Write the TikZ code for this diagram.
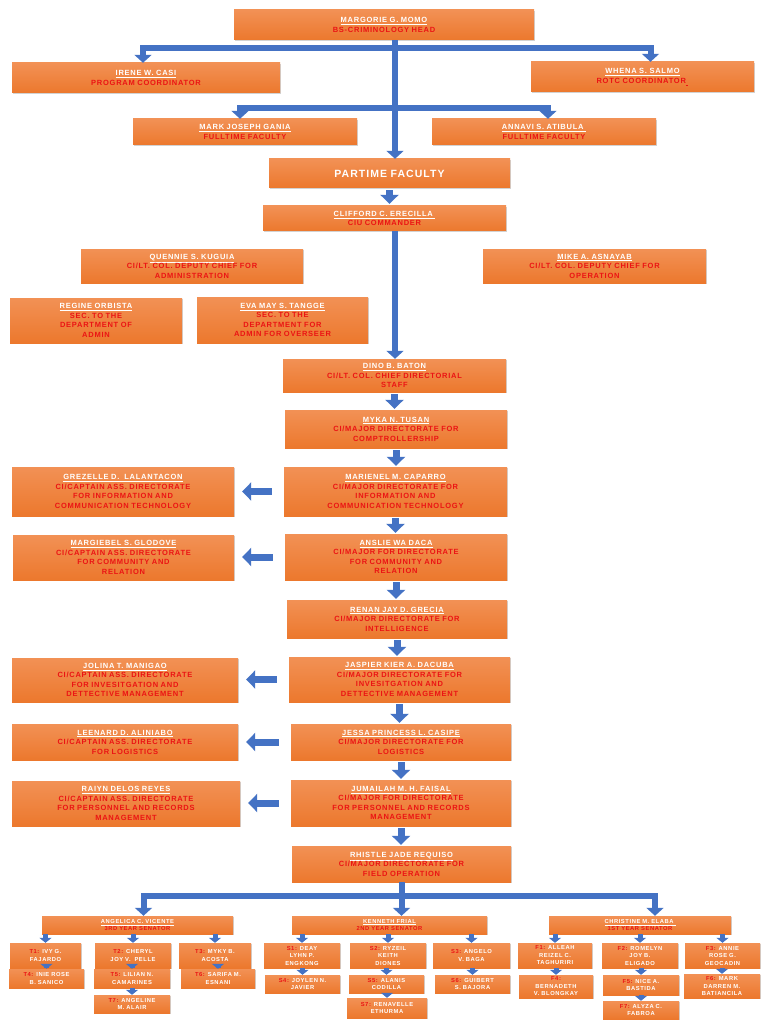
\documentclass[tikz,border=0pt]{standalone}
\usepackage{fontspec}
\setmainfont{Liberation Sans}[LetterSpace=10]
\usetikzlibrary{arrows.meta,shadows}
\definecolor{myblue}{RGB}{68,114,196}
\definecolor{otop}{RGB}{242,145,85}
\definecolor{obot}{RGB}{236,120,45}
\definecolor{myred}{RGB}{235,20,20}
\newcommand\nm[1]{\textcolor{white}{\underline{#1}}}
\newcommand\rl[1]{\textcolor{myred}{#1}}
\newcommand\tg[1]{\textcolor{myred}{#1}}
\newcommand\bx[7][box]{%
 \pgfmathsetmacro\bw{#5-#3}\pgfmathsetmacro\bh{#6-#4}%
 \pgfmathsetmacro\bcx{(#3+#5)/2}\pgfmathsetmacro\bcy{(#4+#6)/2}%
 \pgfmathsetmacro\btw{#5-#3-2}%
 \node[#1,minimum width=\bw pt,minimum height=\bh pt,text width=\btw pt] (#2) at (\bcx,\bcy) {#7};}
\tikzset{
 box/.style={rectangle,top color=otop,bottom color=obot,draw=none,inner sep=0pt,align=center,
   font=\bfseries\fontsize{7.5}{9.5}\selectfont,drop shadow={opacity=0.35,shadow xshift=1.2pt,shadow yshift=-1.2pt}},
 sbox/.style={box,font=\bfseries\fontsize{5.8}{7.5}\selectfont},
 bar/.style={draw=myblue,line width=6pt,-{Triangle[width=17pt,length=8pt]}},
 blk/.style={draw=myblue,line width=7pt,-{Triangle[width=18pt,length=9pt]}},
 sblk/.style={draw=myblue,line width=5pt,-{Triangle[width=12pt,length=5pt]}},
}
\begin{document}
\begin{tikzpicture}[x=1pt,y=-1pt]
\useasboundingbox[fill=white] (0,0) rectangle (768,1024);
\bx{margorie}{234}{10}{534}{40}{\nm{MARGORIE G. MOMO}\\\rl{BS-CRIMINOLOGY HEAD}}
\bx{irene}{12}{63}{280}{93}{\nm{IRENE W. CASI}\\\rl{PROGRAM COORDINATOR}}
\bx{whena}{531}{62}{754}{92}{\nm{WHENA S. SALMO}\\\rl{ROTC COORDINATOR\underline{ }}}
\bx{mark}{133}{119}{357}{145}{\nm{MARK JOSEPH GANIA}\\\rl{FULLTIME FACULTY}}
\bx{annavi}{432}{119}{656}{145}{\nm{ANNAVI S. ATIBULA }\\\rl{FULLTIME FACULTY}}
\bx[box,font=\bfseries\fontsize{10.5}{12}\selectfont,text=white]{partime}{269}{159}{510}{188}{PARTIME FACULTY}
\bx{clifford}{263}{206}{506}{231}{\nm{CLIFFORD C. ERECILLA }\\\rl{CIU COMMANDER}}
\bx{quennie}{81}{249}{303}{283}{\nm{QUENNIE S. KUGUIA}\\\rl{CI/LT. COL. DEPUTY CHIEF FOR\\ADMINISTRATION}}
\bx{mike}{483}{249}{706}{283}{\nm{MIKE A. ASNAYAB}\\\rl{CI/LT. COL. DEPUTY CHIEF FOR\\OPERATION}}
\bx{regine}{10}{298}{182}{343}{\nm{REGINE ORBISTA}\\\rl{SEC. TO THE\\DEPARTMENT OF\\ADMIN}}
\bx{eva}{197}{297}{368}{343}{\nm{EVA MAY S. TANGGE}\\\rl{SEC. TO THE\\DEPARTMENT FOR\\ADMIN FOR OVERSEER}}
\bx{dino}{283}{359}{506}{392}{\nm{DINO B. BATON}\\\rl{CI/LT. COL. CHIEF DIRECTORIAL\\STAFF}}
\bx{myka}{285}{410}{507}{448}{\nm{MYKA N. TUSAN}\\\rl{CI/MAJOR DIRECTORATE FOR\\COMPTROLLERSHIP}}
\bx{marienel}{284}{467}{507}{516}{\nm{MARIENEL M. CAPARRO}\\\rl{CI/MAJOR DIRECTORATE FOR\\INFORMATION AND\\COMMUNICATION TECHNOLOGY}}
\bx{grezelle}{12}{467}{234}{516}{\nm{GREZELLE D.\ \ LALANTACON}\\\rl{CI/CAPTAIN ASS. DIRECTORATE\\FOR INFORMATION AND\\COMMUNICATION TECHNOLOGY}}
\bx{anslie}{285}{534}{507}{580}{\nm{ANSLIE WA DACA}\\\rl{CI/MAJOR FOR DIRECTORATE\\FOR COMMUNITY AND\\RELATION}}
\bx{margiebel}{13}{535}{234}{580}{\nm{MARGIEBEL S. GLODOVE}\\\rl{CI/CAPTAIN ASS. DIRECTORATE\\FOR COMMUNITY AND\\RELATION}}
\bx{renan}{287}{600}{507}{638}{\nm{RENAN JAY D. GRECIA}\\\rl{CI/MAJOR DIRECTORATE FOR\\INTELLIGENCE}}
\bx{jaspier}{289}{657}{510}{702}{\nm{JASPIER KIER A. DACUBA}\\\rl{CI/MAJOR DIRECTORATE FOR\\INVESITGATION AND\\DETTECTIVE MANAGEMENT}}
\bx{jolina}{12}{658}{238}{702}{\nm{JOLINA T. MANIGAO}\\\rl{CI/CAPTAIN ASS. DIRECTORATE\\FOR INVESITGATION AND\\DETTECTIVE MANAGEMENT}}
\bx{jessa}{291}{724}{511}{760}{\nm{JESSA PRINCESS L. CASIPE}\\\rl{CI/MAJOR DIRECTORATE FOR\\LOGISTICS}}
\bx{leenard}{12}{724}{238}{760}{\nm{LEENARD D. ALINIABO}\\\rl{CI/CAPTAIN ASS. DIRECTORATE\\FOR LOGISTICS}}
\bx{jumailah}{291}{780}{511}{826}{\nm{JUMAILAH M. H. FAISAL}\\\rl{CI/MAJOR FOR DIRECTORATE\\FOR PERSONNEL AND RECORDS\\MANAGEMENT}}
\bx{raiyn}{12}{781}{240}{826}{\nm{RAIYN DELOS REYES}\\\rl{CI/CAPTAIN ASS. DIRECTORATE\\FOR PERSONNEL AND RECORDS\\MANAGEMENT}}
\bx{rhistle}{292}{846}{511}{882}{\nm{RHISTLE JADE REQUISO}\\\rl{CI/MAJOR DIRECTORATE FOR\\FIELD OPERATION}}
% bottom
\bx[sbox]{angelica}{42}{916}{233}{934}{\nm{ANGELICA C. VICENTE}\\\rl{3RD YEAR SENATOR}}
\bx[sbox]{kenneth}{292}{916}{487}{934}{\nm{KENNETH FRIAL}\\\rl{2ND YEAR SENATOR}}
\bx[sbox]{christine}{549}{916}{731}{934}{\nm{CHRISTINE M. ELABA }\\\rl{1ST YEAR SENATOR}}
\bx[sbox,text=white]{t1}{10}{943}{81}{968}{\tg{T1:} IVY G.\\FAJARDO}
\bx[sbox,text=white]{t2}{95}{943}{171}{968}{\tg{T2:} CHERYL\\JOY V.\ \ PELLE}
\bx[sbox,text=white]{t3}{179}{943}{251}{968}{\tg{T3:} MYKY B.\\ACOSTA}
\bx[sbox,text=white]{t4}{9}{969}{84}{988}{\tg{T4:} INIE ROSE\\B. SANICO}
\bx[sbox,text=white]{t5}{94}{969}{170}{988}{\tg{T5:} LILIAN N.\\CAMARINES}
\bx[sbox,text=white]{t6}{181}{969}{255}{988}{\tg{T6:} SARIFA M.\\ESNANI}
\bx[sbox,text=white]{t7}{94}{995}{170}{1013}{\tg{T7:} ANGELINE\\M. ALAIR}
\bx[sbox,text=white]{s1}{264}{943}{340}{968}{\tg{S1:} DEAY\\LYHN P.\\ENGKONG}
\bx[sbox,text=white]{s2}{350}{943}{426}{968}{\tg{S2:} RYZEIL\\KEITH\\DIONES}
\bx[sbox,text=white]{s3}{433}{943}{510}{968}{\tg{S3:} ANGELO\\V. BAGA}
\bx[sbox,text=white]{s4}{265}{975}{340}{993}{\tg{S4:} JOYLEN N.\\JAVIER}
\bx[sbox,text=white]{s5}{349}{975}{424}{993}{\tg{S5:} ALANIS\\CODILLA}
\bx[sbox,text=white]{s6}{435}{975}{510}{993}{\tg{S6:} GUIBERT\\S. BAJORA}
\bx[sbox,text=white]{s7}{347}{998}{427}{1018}{\tg{S7:} RENAVELLE\\ETHURMA}
\bx[sbox,text=white]{f1}{518}{943}{592}{968}{\tg{F1:} ALLEAH\\REIZEL C.\\TAGHURIRI}
\bx[sbox,text=white]{f2}{602}{943}{678}{968}{\tg{F2:} ROMELYN\\JOY B.\\ELIGADO}
\bx[sbox,text=white]{f3}{685}{943}{760}{968}{\tg{F3:} ANNIE\\ROSE G.\\GEOCADIN}
\bx[sbox,text=white]{f4}{519}{975}{593}{998}{\tg{F4:}\\BERNADETH\\V. BLONGKAY}
\bx[sbox,text=white]{f5}{603}{975}{679}{995}{\tg{F5:} NICE A.\\BASTIDA}
\bx[sbox,text=white]{f6}{684}{974}{760}{998}{\tg{F6:} MARK\\DARREN M.\\BATIANCILA}
\bx[sbox,text=white]{f7}{603}{1001}{679}{1019}{\tg{F7:} ALYZA C.\\FABROA}
% connectors
\coordinate (j1) at (395,48);
\coordinate (j2) at (395,108);
\draw[bar] (margorie.south -| j1) -- (partime.north -| j1);
\draw[bar] (j1) -| ([xshift=-3pt]irene.north);
\draw[bar] (j1) -| ([xshift=8pt]whena.north);
\draw[bar] (j2) -| ([xshift=-5pt]mark.north);
\draw[bar] (j2) -| ([xshift=4pt]annavi.north);
\draw[blk,shorten <=2pt,shorten >=2pt] (partime.south) -- (partime.south |- clifford.north);
\draw[bar] (clifford.south -| j1) -- (dino.north -| j1);
\foreach \a/\b in {dino/myka,myka/marienel,marienel/anslie,anslie/renan,renan/jaspier,jaspier/jessa,jessa/jumailah,jumailah/rhistle}
  \draw[blk,shorten <=2pt,shorten >=1pt] (\a.south) -- (\a.south |- \b.north);
\foreach \a/\b in {marienel/grezelle,anslie/margiebel,jaspier/jolina,jessa/leenard,jumailah/raiyn}
  \draw[blk,shorten <=12pt,shorten >=8pt] (\a.west) -- (\a.west -| \b.east);
\coordinate (j3) at (401,896);
\draw[bar] (rhistle.south) -- (rhistle.south |- kenneth.north);
\draw[bar] (j3) -| ([xshift=6pt]angelica.north);
\draw[bar] (j3) -| ([xshift=15pt]christine.north);
\foreach \a/\b in {angelica/t1,angelica/t2,angelica/t3,kenneth/s1,kenneth/s2,kenneth/s3,christine/f1,christine/f2,christine/f3,t1/t4,t2/t5,t5/t7,t3/t6,s1/s4,s2/s5,s5/s7,s3/s6,f1/f4,f2/f5,f5/f7,f3/f6}
  \draw[sblk] (\a.south -| \b.north) -- (\b.north);
\end{tikzpicture}
\end{document}
